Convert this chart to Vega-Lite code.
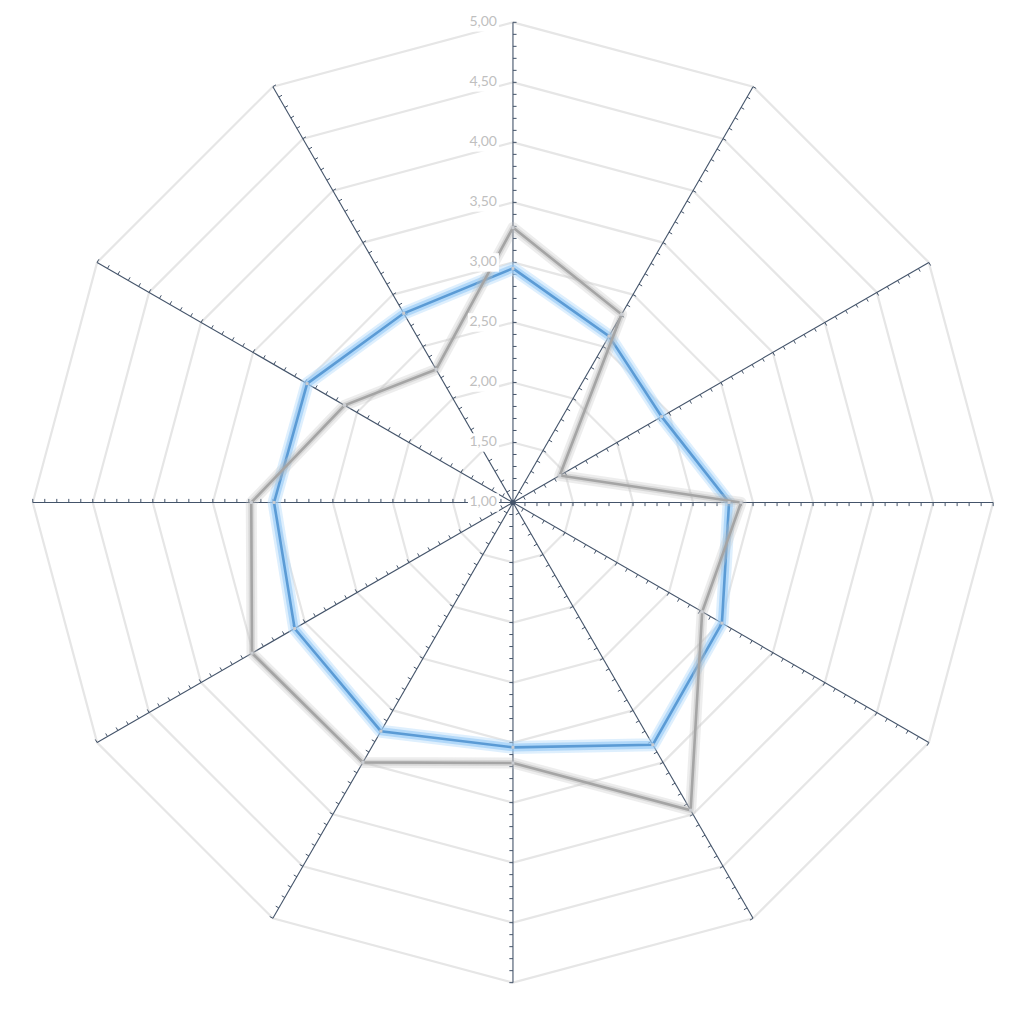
{
  "$schema": "https://vega.github.io/schema/vega-lite/v6.json",
  "width": 1024,
  "height": 1011,
  "autosize": "none",
  "padding": 0,
  "background": "white",
  "config": {"view": {"stroke": null}},
  "datasets": {
    "series": [
      {"s": "blue", "i": 0, "v": 2.95}, {"s": "blue", "i": 1, "v": 2.60}, {"s": "blue", "i": 2, "v": 2.43},
      {"s": "blue", "i": 3, "v": 2.80}, {"s": "blue", "i": 4, "v": 3.01}, {"s": "blue", "i": 5, "v": 3.33},
      {"s": "blue", "i": 6, "v": 3.04}, {"s": "blue", "i": 7, "v": 3.20}, {"s": "blue", "i": 8, "v": 3.10},
      {"s": "blue", "i": 9, "v": 2.99}, {"s": "blue", "i": 10, "v": 2.98}, {"s": "blue", "i": 11, "v": 2.82},
      {"s": "gray", "i": 0, "v": 3.29}, {"s": "gray", "i": 1, "v": 2.81}, {"s": "gray", "i": 2, "v": 1.45},
      {"s": "gray", "i": 3, "v": 2.90}, {"s": "gray", "i": 4, "v": 2.82}, {"s": "gray", "i": 5, "v": 3.96},
      {"s": "gray", "i": 6, "v": 3.17}, {"s": "gray", "i": 7, "v": 3.50}, {"s": "gray", "i": 8, "v": 3.51},
      {"s": "gray", "i": 9, "v": 3.18}, {"s": "gray", "i": 10, "v": 2.62}, {"s": "gray", "i": 11, "v": 2.28}
    ],
    "grid": [
      {"i": [0, 1, 2, 3, 4, 5, 6, 7, 8, 9, 10, 11], "lvl": [1.5, 2.0, 2.5, 3.0, 3.5, 4.0, 4.5, 5.0]}
    ],
    "ticks": [
      {"i": [0, 1, 2, 3, 4, 5, 6, 7, 8, 9, 10, 11],
       "t": [1.1, 1.2, 1.3, 1.4, 1.5, 1.6, 1.7, 1.8, 1.9, 2.0,
             2.1, 2.2, 2.3, 2.4, 2.5, 2.6, 2.7, 2.8, 2.9, 3.0,
             3.1, 3.2, 3.3, 3.4, 3.5, 3.6, 3.7, 3.8, 3.9, 4.0,
             4.1, 4.2, 4.3, 4.4, 4.5, 4.6, 4.7, 4.8, 4.9, 5.0]}
    ],
    "spokes": [
      {"i": 0}, {"i": 1}, {"i": 2}, {"i": 3}, {"i": 4}, {"i": 5},
      {"i": 6}, {"i": 7}, {"i": 8}, {"i": 9}, {"i": 10}, {"i": 11}
    ],
    "labels": [
      {"lab": "1,00", "v": 1.0}, {"lab": "1,50", "v": 1.5}, {"lab": "2,00", "v": 2.0},
      {"lab": "2,50", "v": 2.5}, {"lab": "3,00", "v": 3.0}, {"lab": "3,50", "v": 3.5},
      {"lab": "4,00", "v": 4.0}, {"lab": "4,50", "v": 4.5}, {"lab": "5,00", "v": 5.0}
    ]
  },
  "layer": [
    {
      "data": {"name": "grid"},
      "transform": [
        {"flatten": ["i"]},
        {"flatten": ["lvl"]},
        {"calculate": "datum.i * PI / 6", "as": "a"},
        {"calculate": "(datum.lvl - 1) * sin(datum.a)", "as": "x"},
        {"calculate": "(datum.lvl - 1) * cos(datum.a)", "as": "y"}
      ],
      "mark": {"type": "line", "interpolate": "linear-closed", "color": "#e6e6e6", "strokeWidth": 2.2},
      "encoding": {
        "x": {"field": "x", "type": "quantitative", "scale": {"domain": [-4.273, 4.257], "nice": false, "zero": false}, "axis": null},
        "y": {"field": "y", "type": "quantitative", "scale": {"domain": [-4.236, 4.186], "nice": false, "zero": false}, "axis": null},
        "detail": {"field": "lvl"},
        "order": {"field": "i"}
      }
    },
    {
      "data": {"name": "spokes"},
      "transform": [
        {"calculate": "datum.i * PI / 6", "as": "a"},
        {"calculate": "0", "as": "x0"},
        {"calculate": "0", "as": "y0"},
        {"calculate": "4 * sin(datum.a)", "as": "x1"},
        {"calculate": "4 * cos(datum.a)", "as": "y1"}
      ],
      "mark": {"type": "rule", "color": "#44546a", "strokeWidth": 1.1},
      "encoding": {
        "x": {"field": "x0", "type": "quantitative", "scale": {"domain": [-4.273, 4.257], "nice": false, "zero": false}, "axis": null},
        "y": {"field": "y0", "type": "quantitative", "scale": {"domain": [-4.236, 4.186], "nice": false, "zero": false}, "axis": null},
        "x2": {"field": "x1"},
        "y2": {"field": "y1"}
      }
    },
    {
      "data": {"name": "ticks"},
      "transform": [
        {"flatten": ["i"]},
        {"flatten": ["t"]},
        {"calculate": "datum.i * PI / 6", "as": "a"},
        {"calculate": "(datum.t - 1) * sin(datum.a)", "as": "x0"},
        {"calculate": "(datum.t - 1) * cos(datum.a)", "as": "y0"},
        {"calculate": "datum.x0 + 0.03 * cos(datum.a)", "as": "x1"},
        {"calculate": "datum.y0 - 0.03 * sin(datum.a)", "as": "y1"}
      ],
      "mark": {"type": "rule", "color": "#44546a", "strokeWidth": 1},
      "encoding": {
        "x": {"field": "x0", "type": "quantitative", "scale": {"domain": [-4.273, 4.257], "nice": false, "zero": false}, "axis": null},
        "y": {"field": "y0", "type": "quantitative", "scale": {"domain": [-4.236, 4.186], "nice": false, "zero": false}, "axis": null},
        "x2": {"field": "x1"},
        "y2": {"field": "y1"}
      }
    },
    {
      "data": {"values": [{"c": 0}]},
      "mark": {"type": "circle", "color": "#44546a", "size": 30, "opacity": 1},
      "encoding": {
        "x": {"datum": 0, "type": "quantitative", "scale": {"domain": [-4.273, 4.257], "nice": false, "zero": false}, "axis": null},
        "y": {"datum": 0, "type": "quantitative", "scale": {"domain": [-4.236, 4.186], "nice": false, "zero": false}, "axis": null}
      }
    },
    {
      "data": {"name": "series"},
      "transform": [
        {"filter": "datum.s === 'blue'"},
        {"calculate": "datum.i * PI / 6", "as": "a"},
        {"calculate": "(datum.v - 1) * sin(datum.a)", "as": "x"},
        {"calculate": "(datum.v - 1) * cos(datum.a)", "as": "y"}
      ],
      "layer": [
        {"mark": {"type": "line", "interpolate": "linear-closed", "color": "#b5dbfb", "strokeWidth": 13, "opacity": 0.45, "strokeJoin": "round"}},
        {"mark": {"type": "line", "interpolate": "linear-closed", "color": "#8cc4f5", "strokeWidth": 8, "opacity": 0.55, "strokeJoin": "round"}},
        {"mark": {"type": "line", "interpolate": "linear-closed", "color": "#5b9bd5", "strokeWidth": 2.6}}
      ],
      "encoding": {
        "x": {"field": "x", "type": "quantitative", "scale": {"domain": [-4.273, 4.257], "nice": false, "zero": false}, "axis": null},
        "y": {"field": "y", "type": "quantitative", "scale": {"domain": [-4.236, 4.186], "nice": false, "zero": false}, "axis": null},
        "order": {"field": "i"}
      }
    },
    {
      "data": {"name": "series"},
      "transform": [
        {"filter": "datum.s === 'gray'"},
        {"calculate": "datum.i * PI / 6", "as": "a"},
        {"calculate": "(datum.v - 1) * sin(datum.a)", "as": "x"},
        {"calculate": "(datum.v - 1) * cos(datum.a)", "as": "y"}
      ],
      "layer": [
        {"mark": {"type": "line", "interpolate": "linear-closed", "color": "#c4c4c4", "strokeWidth": 11, "opacity": 0.3, "strokeJoin": "round"}},
        {"mark": {"type": "line", "interpolate": "linear-closed", "color": "#b0b0b0", "strokeWidth": 6, "opacity": 0.35, "strokeJoin": "round"}},
        {"mark": {"type": "line", "interpolate": "linear-closed", "color": "#a5a5a5", "strokeWidth": 2.6}}
      ],
      "encoding": {
        "x": {"field": "x", "type": "quantitative", "scale": {"domain": [-4.273, 4.257], "nice": false, "zero": false}, "axis": null},
        "y": {"field": "y", "type": "quantitative", "scale": {"domain": [-4.236, 4.186], "nice": false, "zero": false}, "axis": null},
        "order": {"field": "i"}
      }
    },
    {
      "data": {"name": "series"},
      "transform": [
        {"calculate": "datum.i * PI / 6", "as": "a"},
        {"calculate": "(datum.v - 1) * sin(datum.a)", "as": "x"},
        {"calculate": "(datum.v - 1) * cos(datum.a)", "as": "y"}
      ],
      "mark": {"type": "square", "color": "#c9ccd1", "size": 9, "opacity": 1},
      "encoding": {
        "x": {"field": "x", "type": "quantitative", "scale": {"domain": [-4.273, 4.257], "nice": false, "zero": false}, "axis": null},
        "y": {"field": "y", "type": "quantitative", "scale": {"domain": [-4.236, 4.186], "nice": false, "zero": false}, "axis": null}
      }
    },
    {
      "data": {"name": "labels"},
      "transform": [
        {"calculate": "datum.v - 1 + 0.077", "as": "yt"},
        {"calculate": "datum.v - 1 - 0.077", "as": "yb"},
        {"calculate": "datum.v - 1", "as": "y"}
      ],
      "layer": [
        {
          "mark": {"type": "rect", "color": "white"},
          "encoding": {
            "x": {"datum": -0.375, "type": "quantitative", "scale": {"domain": [-4.273, 4.257], "nice": false, "zero": false}, "axis": null},
            "x2": {"datum": -0.117},
            "y": {"field": "yt", "type": "quantitative", "scale": {"domain": [-4.236, 4.186], "nice": false, "zero": false}, "axis": null},
            "y2": {"field": "yb"}
          }
        },
        {
          "mark": {"type": "text", "align": "right", "baseline": "middle", "font": "Lato", "fontSize": 14, "color": "#bfbfbf", "dx": -1},
          "encoding": {
            "x": {"datum": -0.125, "type": "quantitative", "scale": {"domain": [-4.273, 4.257], "nice": false, "zero": false}, "axis": null},
            "y": {"field": "y", "type": "quantitative", "scale": {"domain": [-4.236, 4.186], "nice": false, "zero": false}, "axis": null},
            "text": {"field": "lab"}
          }
        }
      ]
    }
  ]
}
